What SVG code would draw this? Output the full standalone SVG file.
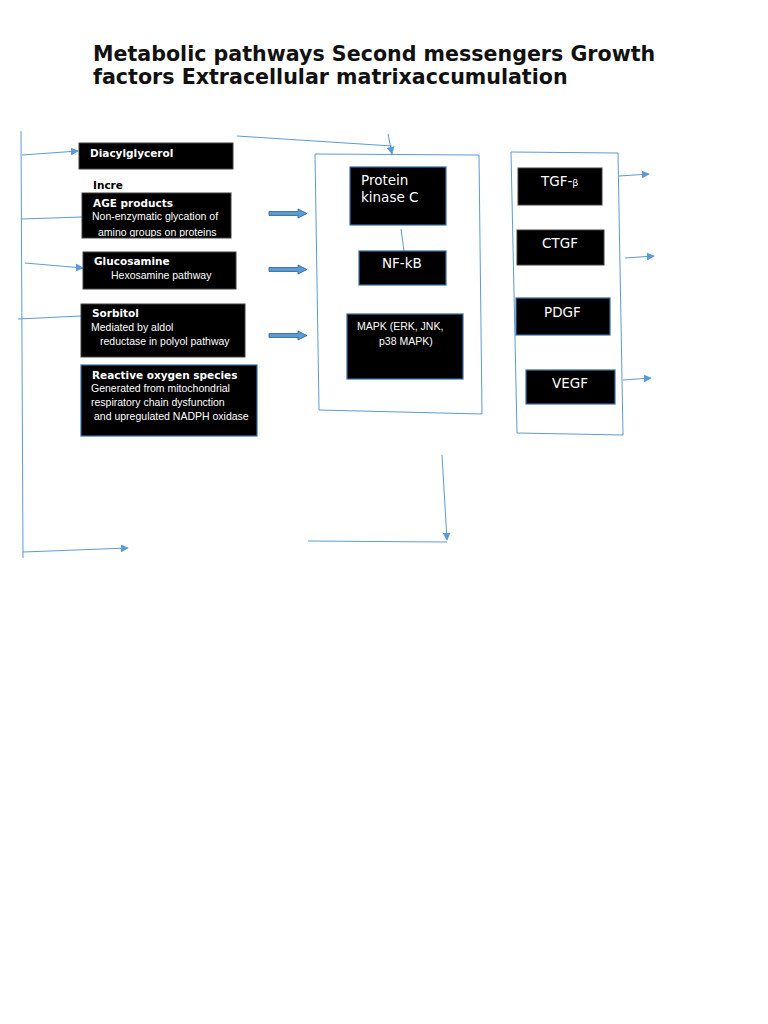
<svg xmlns="http://www.w3.org/2000/svg" width="768" height="1024" viewBox="0 0 768 1024">
<defs>
<style>
.ln{stroke:#5b9bd5;stroke-width:1;fill:none}
.box{fill:#000;stroke:#404040;stroke-width:1}
.bbox{fill:#000;stroke:#3a6ea5;stroke-width:1.2}
.ttl{font-family:"DejaVu Sans",sans-serif;font-weight:bold;font-size:20.6px;fill:#111}
.hd{font-family:"DejaVu Sans",sans-serif;font-weight:bold;font-size:10.5px;fill:#fff}
.tx{font-family:"Liberation Sans",Arial,sans-serif;font-size:10.5px;fill:#fff}
.big{font-family:"DejaVu Sans",sans-serif;font-size:13.5px;fill:#fff}
.blk{fill:#5b9bd5;stroke:#2e5f92;stroke-width:0.8}
</style>
<marker id="ah" viewBox="0 0 10 10" refX="9" refY="5" markerWidth="8" markerHeight="8" markerUnits="userSpaceOnUse" orient="auto">
<path d="M0,0 L10,5 L0,10 z" fill="#5b9bd5"/>
</marker>
<clipPath id="c2"><rect x="82" y="193" width="149" height="44"/></clipPath>
</defs>

<g id="title">
<text class="ttl" x="93" y="61">Metabolic pathways Second messengers Growth</text>
<text class="ttl" x="93" y="84">factors Extracellular matrixaccumulation</text>
</g>

<g id="connectors">
<path class="ln" d="M21,131 L23,558"/>
<path class="ln" d="M22,155 L78,151" marker-end="url(#ah)"/>
<path class="ln" d="M22,219 L82,217"/>
<path class="ln" d="M25,263 L83,268" marker-end="url(#ah)"/>
<path class="ln" d="M18,319 L81,316"/>
<path class="ln" d="M118,404 L185,403" marker-end="url(#ah)"/>
<path class="ln" d="M237,136 L392,146"/>
<path class="ln" d="M388,134 L392,154" marker-end="url(#ah)"/>
<path class="ln" d="M401,229 L404,251"/>
<path class="ln" d="M619,176 L649,174" marker-end="url(#ah)"/>
<path class="ln" d="M625,258 L654,256" marker-end="url(#ah)"/>
<path class="ln" d="M623,380 L651,378" marker-end="url(#ah)"/>
<path class="ln" d="M23,552 L128,548" marker-end="url(#ah)"/>
<path class="ln" d="M442,455 L447,540" marker-end="url(#ah)"/>
<path class="ln" d="M308,541 L447,542"/>
<path class="blk" d="M269,211.5 L298,211.5 L298,209 L307,213.5 L298,218 L298,215.5 L269,215.5 z"/>
<path class="blk" d="M269,267.5 L298,267.5 L298,265 L307,269.5 L298,274 L298,271.5 L269,271.5 z"/>
<path class="blk" d="M269,333.5 L298,333.5 L298,331 L307,335.5 L298,340 L298,337.5 L269,337.5 z"/>
</g>

<g id="container-second-messengers">
<path class="ln" d="M315,154 L479,155 L482,414 L319,410 z"/>
</g>
<g id="container-growth-factors">
<path class="ln" d="M511,152 L618,153 L623,435 L517,433 z"/>
</g>

<g id="diacylglycerol">
<rect class="box" x="79" y="143" width="154" height="26"/>
<text class="hd" x="90" y="157">Diacylglycerol</text>
</g>

<g id="incre">
<text class="hd" x="93" y="189" style="fill:#000">Incre</text>
</g>

<g id="age-products">
<rect class="box" x="82" y="193" width="149" height="45"/>
<text class="hd" x="93" y="207">AGE products</text>
<text class="tx" x="92" y="220">Non-enzymatic glycation of</text>
<text class="tx" x="98" y="236" clip-path="url(#c2)">amino groups on proteins</text>
</g>

<g id="glucosamine">
<rect class="box" x="83" y="252" width="153" height="37"/>
<text class="hd" x="94" y="265">Glucosamine</text>
<text class="tx" x="111" y="279">Hexosamine pathway</text>
</g>

<g id="sorbitol">
<rect class="box" x="81" y="304" width="164" height="53"/>
<text class="hd" x="92" y="317">Sorbitol</text>
<text class="tx" x="91" y="331">Mediated by aldol</text>
<text class="tx" x="100" y="345">reductase in polyol pathway</text>
</g>

<g id="ros">
<rect class="bbox" x="81" y="365" width="176" height="71"/>
<text class="hd" x="92" y="379">Reactive oxygen species</text>
<text class="tx" x="91" y="392">Generated from mitochondrial</text>
<text class="tx" x="91" y="406">respiratory chain dysfunction</text>
<text class="tx" x="94" y="420">and upregulated NADPH oxidase</text>
</g>

<g id="pkc">
<rect class="bbox" x="350" y="167" width="96" height="58"/>
<text class="big" x="361" y="185">Protein</text>
<text class="big" x="361" y="202">kinase C</text>
</g>

<g id="nfkb">
<rect class="bbox" x="359" y="251" width="87" height="34"/>
<text class="big" x="382" y="268">NF-kB</text>
</g>

<g id="mapk">
<rect class="bbox" x="347" y="314" width="116" height="65"/>
<text class="tx" x="357" y="330">MAPK (ERK, JNK,</text>
<text class="tx" x="379" y="345">p38 MAPK)</text>
</g>

<g id="tgf">
<rect class="box" x="518" y="168" width="84" height="37"/>
<text class="big" x="541" y="186">TGF-<tspan font-size="9.5px">β</tspan></text>
</g>

<g id="ctgf">
<rect class="box" x="517" y="230" width="87" height="35"/>
<text class="big" x="542" y="248">CTGF</text>
</g>

<g id="pdgf">
<rect class="bbox" x="516" y="298" width="94" height="37"/>
<text class="big" x="544" y="317">PDGF</text>
</g>

<g id="vegf">
<rect class="bbox" x="526" y="370" width="89" height="34"/>
<text class="big" x="552" y="388">VEGF</text>
</g>
</svg>
